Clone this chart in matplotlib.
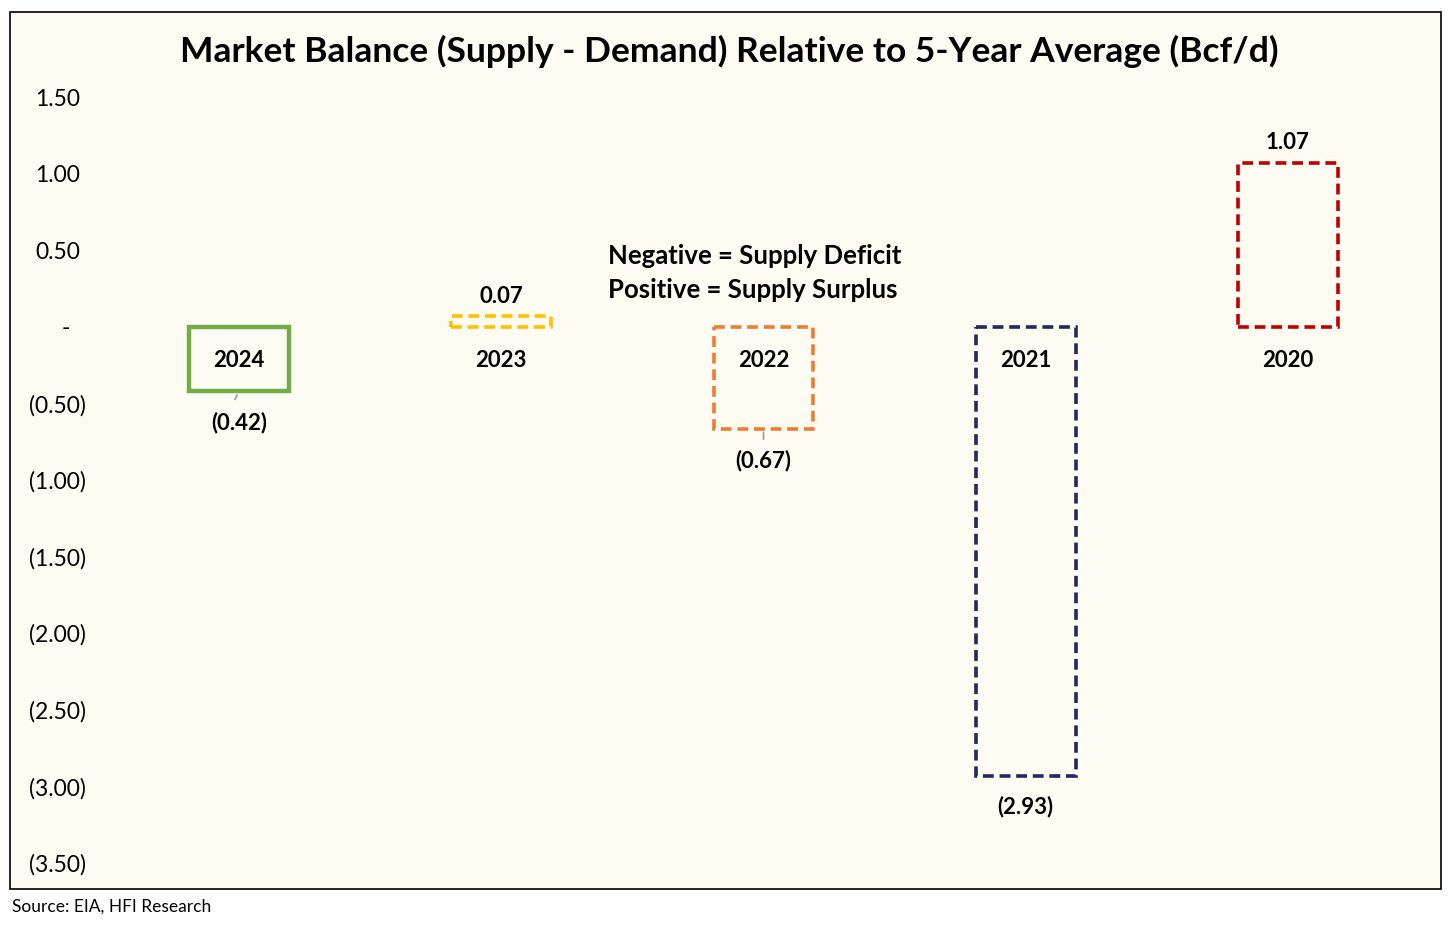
import matplotlib
matplotlib.use("Agg")
import matplotlib.pyplot as plt
from matplotlib.patches import Rectangle
from matplotlib.transforms import blended_transform_factory, ScaledTranslation

plt.rcParams['font.family'] = ['Lato', 'DejaVu Sans']

years = ["2024", "2023", "2022", "2021", "2020"]
values = [-0.42, 0.07, -0.67, -2.93, 1.07]
value_labels = ["(0.42)", "0.07", "(0.67)", "(2.93)", "1.07"]
colors = ["#70AD47", "#FFC000", "#ED7D31", "#1F2A5E", "#C00000"]
styles = ["solid", "dashed", "dashed", "dashed", "dashed"]
yticks = [1.5, 1.0, 0.5, 0.0, -0.5, -1.0, -1.5, -2.0, -2.5, -3.0, -3.5]
ytick_labels = ["1.50", "1.00", "0.50", "-", "(0.50)", "(1.00)", "(1.50)", "(2.00)",
                "(2.50)", "(3.00)", "(3.50)"]
title = "Market Balance (Supply - Demand) Relative to 5-Year Average (Bcf/d)"
note = "Negative = Supply Deficit\nPositive = Supply Surplus"
source = "Source: EIA, HFI Research"

W, H = 1456, 927
DPI = 100
bg = "#FEFBF2"
fig = plt.figure(figsize=(W / DPI, H / DPI), dpi=DPI)
fig.patch.set_facecolor("white")

# outer chart frame
frame = Rectangle((10 / W, 1 - 889 / H), (1441 - 10) / W, (889 - 12) / H,
                  transform=fig.transFigure, facecolor=bg, edgecolor="black",
                  linewidth=1.2, zorder=-10)
fig.patches.append(frame)

ax = fig.add_axes([108 / W, 1 - 863 / H, (1419 - 108) / W, (863 - 97) / H])
ax.set_zorder(5)
ax.set_facecolor("none")
for s in ax.spines.values():
    s.set_visible(False)
ax.set_xlim(-0.5, 4.5)
ax.set_ylim(-3.5, 1.5)
ax.set_xticks([])
ax.set_yticks([])

x = list(range(len(years)))
bars = ax.bar(x, values, width=0.38, facecolor="none")
for b, c, ls in zip(bars, colors, styles):
    b.set_edgecolor(c)
    b.set_linewidth(3.2 if ls == "solid" else 2.6)
    b.set_linestyle((0, (3, 1.6)) if ls == "dashed" else "solid")


def px(dx, dy):
    return ScaledTranslation(dx / DPI, dy / DPI, fig.dpi_scale_trans)


bold = dict(fontsize=16, fontweight="bold", color="black")

for xi, v, lab, yr in zip(x, values, value_labels, years):
    ax.text(xi, 0, yr, ha="center", va="center",
            transform=ax.transData + px(0, -34), **bold)
    if v >= 0:
        ax.text(xi, v, lab, ha="center", va="center",
                transform=ax.transData + px(0, 20), **bold)
    else:
        ax.text(xi, v, lab, ha="center", va="center",
                transform=ax.transData + px(0, -31), **bold)

# leader lines
ax.annotate("", xy=(0, values[0]), xycoords="data",
            xytext=(-3, -6), textcoords="offset points",
            arrowprops=dict(arrowstyle="-", color="#999999", lw=1.2,
                            shrinkA=0, shrinkB=3))
ax.annotate("", xy=(2, values[2]), xycoords="data",
            xytext=(0, -7), textcoords="offset points",
            arrowprops=dict(arrowstyle="-", color="#999999", lw=1.2,
                            shrinkA=0, shrinkB=2))

# y tick labels (accounting-style alignment)
tr = blended_transform_factory(ax.transAxes, ax.transData)
for yv, lab in zip(yticks, ytick_labels):
    if lab == "-":
        off = -38
    elif lab.startswith("("):
        off = -22
    else:
        off = -28
    ax.text(0, yv, lab, ha="right", va="center", fontsize=16.5, color="black",
            transform=tr + px(off, -2))

fig.text(729 / W, 1 - 51 / H, title, ha="center", va="center",
         fontsize=25.5, fontweight="bold")
fig.text(608 / W, 1 - 273 / H, note, ha="left", va="center",
         fontsize=18.5, fontweight="bold", linespacing=1.45)
fig.text(12 / W, 1 - 907 / H, source, ha="left", va="center", fontsize=12.5)

fig.savefig("out.png", dpi=DPI, facecolor="white")
